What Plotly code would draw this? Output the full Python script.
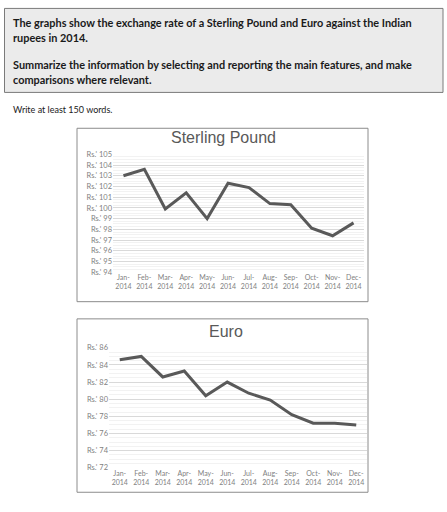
import plotly.graph_objects as go

W, H = 447, 512

months = ["Jan-<br>2014", "Feb-<br>2014", "Mar-<br>2014", "Apr-<br>2014", "May-<br>2014", "Jun-<br>2014",
          "Jul-<br>2014", "Aug-<br>2014", "Sep-<br>2014", "Oct-<br>2014", "Nov-<br>2014", "Dec-<br>2014"]
sterling = [103.0, 103.6, 99.9, 101.4, 99.0, 102.3, 101.9, 100.4, 100.3, 98.1, 97.4, 98.6]
euro = [84.6, 85.0, 82.6, 83.3, 80.4, 82.0, 80.7, 79.9, 78.2, 77.2, 77.2, 77.0]

sterling_range = [94, 105]
euro_range = [72, 86]

prompt_lines = [
    "The graphs show the exchange rate of a Sterling Pound and Euro against the Indian",
    "rupees in 2014.",
    "Summarize the information by selecting and reporting the main features, and make",
    "comparisons where relevant.",
]
instruction = "Write at least 150 words."
titles = ["Sterling Pound", "Euro"]


def px(x):
    return x / W


def py(y):
    return 1 - y / H


fig = go.Figure()
fig.add_trace(go.Scatter(x=months, y=sterling, mode="lines", xaxis="x", yaxis="y",
                         line=dict(color="#595959", width=3), hoverinfo="skip"))
fig.add_trace(go.Scatter(x=months, y=euro, mode="lines", xaxis="x2", yaxis="y2",
                         line=dict(color="#595959", width=3), hoverinfo="skip"))

xfont = dict(family="Lato", size=7, color="#7f7f7f")
yfont = dict(family="Lato", size=7.5, color="#7f7f7f")
common_x = dict(type="category", range=[-0.5, 11.5], showgrid=False, zeroline=False,
                showline=False, ticks="", tickfont=xfont, tickangle=0, fixedrange=True)
common_y = dict(showgrid=True, gridcolor="#d9d9d9", gridwidth=1, zeroline=False, showline=False,
                ticks="", tickprefix="Rs.' ", tickfont=yfont, fixedrange=True)

fig.update_layout(
    width=W, height=H, margin=dict(l=0, r=0, t=0, b=0),
    paper_bgcolor="white", plot_bgcolor="white", showlegend=False,
    xaxis=dict(common_x, domain=[px(113), px(364)], anchor="y"),
    yaxis=dict(common_y, domain=[py(273), py(153)], anchor="x", range=sterling_range, dtick=1,
               minor=dict(dtick=0.25, showgrid=True, gridcolor="#f2f2f2")),
    xaxis2=dict(common_x, domain=[px(109), px(367)], anchor="y2"),
    yaxis2=dict(common_y, domain=[py(472), py(350)], anchor="x2", range=euro_range, dtick=2,
                minor=dict(dtick=0.5, showgrid=True, gridcolor="#f2f2f2")),
)

shapes = [
    dict(type="rect", xref="paper", yref="paper", x0=px(4.5), x1=px(443), y0=py(90), y1=py(4.5),
         fillcolor="#ebebeb", line=dict(color="#7a7a7a", width=1), layer="below"),
    dict(type="rect", xref="paper", yref="paper", x0=px(77), x1=px(368), y0=py(303), y1=py(126.5),
         fillcolor="rgba(0,0,0,0)", line=dict(color="#8c8c8c", width=1)),
    dict(type="rect", xref="paper", yref="paper", x0=px(77), x1=px(368), y0=py(497), y1=py(320.5),
         fillcolor="rgba(0,0,0,0)", line=dict(color="#8c8c8c", width=1)),
]
fig.update_layout(shapes=shapes)

ann = []
line_y = [19, 34, 62, 77]
for txt, yy in zip(prompt_lines, line_y):
    ann.append(dict(text="<b>" + txt + "</b>", x=px(11), y=py(yy), xref="paper", yref="paper",
                    xanchor="left", yanchor="middle", showarrow=False,
                    font=dict(family="Lato", size=10.9, color="#1a1a1a")))
ann.append(dict(text=instruction, x=px(11), y=py(107), xref="paper", yref="paper",
                xanchor="left", yanchor="middle", showarrow=False,
                font=dict(family="Lato", size=9, color="#1a1a1a")))
ann.append(dict(text=titles[0], x=px(223), y=py(136), xref="paper", yref="paper",
                xanchor="center", yanchor="middle", showarrow=False,
                font=dict(family="Liberation Sans", size=16, color="#595959")))
ann.append(dict(text=titles[1], x=px(226), y=py(333), xref="paper", yref="paper",
                xanchor="center", yanchor="middle", showarrow=False,
                font=dict(family="Liberation Sans", size=16, color="#595959")))
fig.update_layout(annotations=ann)

fig.write_html("out.html", config={"displayModeBar": False},
               post_script="document.body.style.margin='0';document.body.style.overflow='hidden';")
